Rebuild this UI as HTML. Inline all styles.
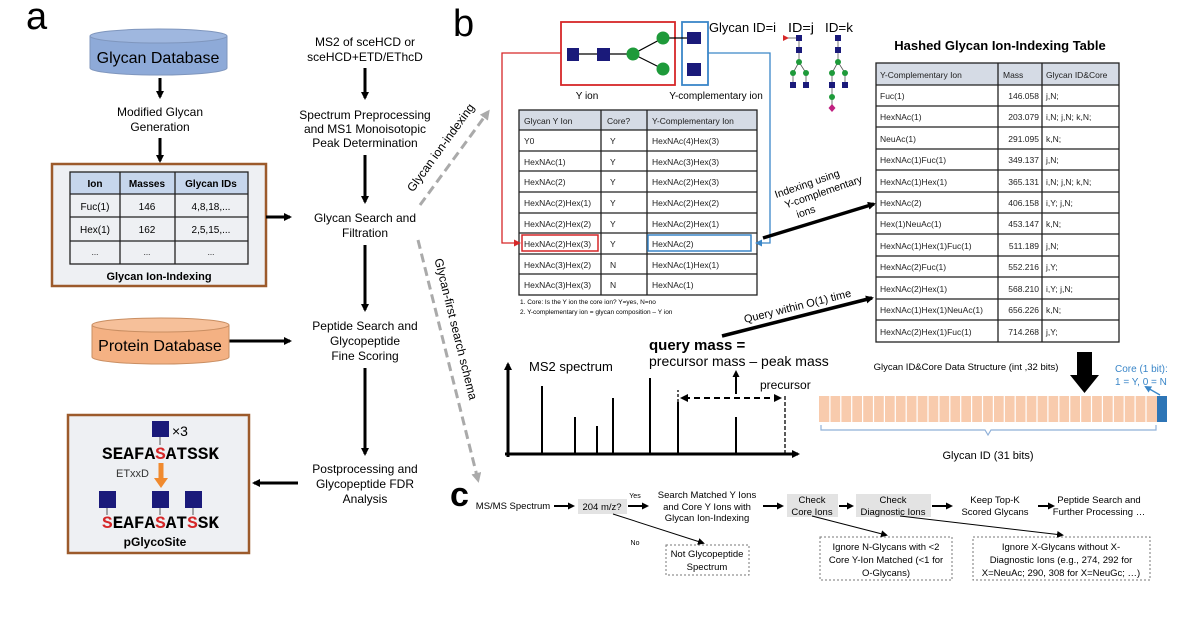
<!DOCTYPE html>
<html><head><meta charset="utf-8"><style>
html,body{margin:0;padding:0;background:#fff;}
svg{display:block;font-family:"Liberation Sans",sans-serif;}
.mono{font-family:"Liberation Mono","DejaVu Sans Mono",monospace;}
</style></head><body>
<svg width="1182" height="621" viewBox="0 0 1182 621" xmlns="http://www.w3.org/2000/svg">
<defs>
<marker id="ah" markerWidth="8" markerHeight="8" refX="6" refY="4" orient="auto" markerUnits="userSpaceOnUse"><path d="M0,0 L8,4 L0,8 z" fill="#000"/></marker>
<marker id="ahs" markerWidth="7" markerHeight="7" refX="5" refY="3.5" orient="auto" markerUnits="userSpaceOnUse"><path d="M0,0 L7,3.5 L0,7 z" fill="#000"/></marker>
<marker id="ahr" markerWidth="7" markerHeight="7" refX="5" refY="3.5" orient="auto" markerUnits="userSpaceOnUse"><path d="M0,0 L7,3.5 L0,7 z" fill="#d62728"/></marker>
<marker id="ahb" markerWidth="7" markerHeight="7" refX="5" refY="3.5" orient="auto" markerUnits="userSpaceOnUse"><path d="M0,0 L7,3.5 L0,7 z" fill="#3a86c8"/></marker>
<marker id="ahg" markerWidth="10" markerHeight="10" refX="7" refY="5" orient="auto" markerUnits="userSpaceOnUse"><path d="M0,0 L10,5 L0,10 z" fill="#aaa"/></marker>
</defs>

<text x="26" y="29" font-size="38">a</text>
<text x="453" y="36" font-size="38">b</text>
<text x="450" y="506" font-size="34" font-weight="bold">c</text>

<path d="M90,36 L90,68 A68,7 0 0 0 227,68 L227,36" fill="#8eaad8" stroke="#7f96bd"/>
<ellipse cx="158.5" cy="36" rx="68.5" ry="7" fill="#9fb7df" stroke="#7f96bd"/>
<text x="158" y="63" font-size="16" text-anchor="middle">Glycan Database</text>
<line x1="160" y1="78" x2="160" y2="97" stroke="#000" stroke-width="3" marker-end="url(#ah)"/>
<text x="160" y="116" font-size="12" text-anchor="middle">Modified Glycan</text>
<text x="160" y="131" font-size="12" text-anchor="middle">Generation</text>
<line x1="160" y1="138" x2="160" y2="161" stroke="#000" stroke-width="3" marker-end="url(#ah)"/>

<rect x="52" y="164" width="214" height="122" fill="#eef0f3" stroke="#9c5a2b" stroke-width="2.5"/>
<rect x="70" y="172" width="178" height="22" fill="#c6d6ec"/>
<g stroke="#222" stroke-width="1.3" fill="none">
<rect x="70" y="172" width="178" height="92"/>
<line x1="120" y1="172" x2="120" y2="264"/><line x1="175" y1="172" x2="175" y2="264"/>
<line x1="70" y1="194" x2="248" y2="194"/><line x1="70" y1="217" x2="248" y2="217"/><line x1="70" y1="241" x2="248" y2="241"/>
</g>
<g font-size="10" text-anchor="middle">
<text x="95" y="187" font-weight="bold">Ion</text><text x="147" y="187" font-weight="bold">Masses</text><text x="211" y="187" font-weight="bold">Glycan IDs</text>
<text x="95" y="210">Fuc(1)</text><text x="147" y="210">146</text><text x="211" y="210">4,8,18,...</text>
<text x="95" y="233">Hex(1)</text><text x="147" y="233">162</text><text x="211" y="233">2,5,15,...</text>
<text x="95" y="255" font-size="8">...</text><text x="147" y="255" font-size="8">...</text><text x="211" y="255" font-size="8">...</text>
<text x="159" y="280" font-weight="bold" font-size="11">Glycan Ion-Indexing</text>
</g>
<line x1="266" y1="217" x2="290" y2="217" stroke="#000" stroke-width="3" marker-end="url(#ah)"/>

<g font-size="12" text-anchor="middle">
<text x="365" y="46">MS2 of sceHCD or</text>
<text x="365" y="61">sceHCD+ETD/EThcD</text>
<text x="365" y="119">Spectrum Preprocessing</text>
<text x="365" y="133">and MS1 Monoisotopic</text>
<text x="365" y="147">Peak Determination</text>
<text x="365" y="222">Glycan Search and</text>
<text x="365" y="237">Filtration</text>
<text x="365" y="330">Peptide Search and</text>
<text x="365" y="345">Glycopeptide</text>
<text x="365" y="360">Fine Scoring</text>
<text x="365" y="473">Postprocessing and</text>
<text x="365" y="488">Glycopeptide FDR</text>
<text x="365" y="503">Analysis</text>
</g>
<g stroke="#000" stroke-width="3">
<line x1="365" y1="68" x2="365" y2="98" marker-end="url(#ah)"/>
<line x1="365" y1="155" x2="365" y2="202" marker-end="url(#ah)"/>
<line x1="365" y1="245" x2="365" y2="310" marker-end="url(#ah)"/>
<line x1="365" y1="368" x2="365" y2="454" marker-end="url(#ah)"/>
<line x1="298" y1="483" x2="254" y2="483" marker-end="url(#ah)"/>
<line x1="229" y1="341" x2="290" y2="341" marker-end="url(#ah)"/>
</g>

<path d="M92,325 L92,357 A68,7 0 0 0 229,357 L229,325" fill="#f4b183" stroke="#c98e62"/>
<ellipse cx="160.5" cy="325" rx="68.5" ry="7" fill="#f6c09a" stroke="#c98e62"/>
<text x="160" y="351" font-size="16" text-anchor="middle">Protein Database</text>

<rect x="68" y="415" width="181" height="138" fill="#eef0f3" stroke="#9c5a2b" stroke-width="2.5"/>
<rect x="152" y="421" width="17" height="16" fill="#1a1a7a"/>
<line x1="160" y1="437" x2="160" y2="445" stroke="#555"/>
<text x="172" y="436" font-size="14">×3</text>
<text x="102" y="459" font-size="17.6" font-weight="bold" class="mono" style="font-family:'Liberation Mono','DejaVu Sans Mono',monospace" textLength="117" lengthAdjust="spacingAndGlyphs">SEAFA<tspan fill="#d62728">S</tspan>ATSSK</text>
<text x="116" y="477" font-size="11" fill="#333">ETxxD</text>
<line x1="161" y1="463" x2="161" y2="479" stroke="#f08a2e" stroke-width="5"/>
<path d="M154,478 L168,478 L161,488 z" fill="#f08a2e"/>
<rect x="99" y="491" width="17" height="17" fill="#1a1a7a"/>
<rect x="152" y="491" width="17" height="17" fill="#1a1a7a"/>
<rect x="185" y="491" width="17" height="17" fill="#1a1a7a"/>
<g stroke="#555"><line x1="107" y1="508" x2="107" y2="515"/><line x1="160" y1="508" x2="160" y2="515"/><line x1="193" y1="508" x2="193" y2="515"/></g>
<text x="102" y="528" font-size="17.6" font-weight="bold" class="mono" style="font-family:'Liberation Mono','DejaVu Sans Mono',monospace" textLength="117" lengthAdjust="spacingAndGlyphs"><tspan fill="#d62728">S</tspan>EAFA<tspan fill="#d62728">S</tspan>AT<tspan fill="#d62728">S</tspan>SK</text>
<text x="155" y="546" font-size="12" font-weight="bold" text-anchor="middle">pGlycoSite</text>

<line x1="420" y1="205" x2="488" y2="112" stroke="#aaa" stroke-width="3" stroke-dasharray="9,5" marker-end="url(#ahg)"/>
<text transform="translate(444,150) rotate(-54)" font-size="12" text-anchor="middle">Glycan ion-indexing</text>
<line x1="418" y1="240" x2="478" y2="480" stroke="#aaa" stroke-width="3" stroke-dasharray="9,5" marker-end="url(#ahg)"/>
<text transform="translate(452,330) rotate(76)" font-size="12" text-anchor="middle">Glycan-first search schema</text>

<rect x="561" y="22" width="114" height="63" fill="none" stroke="#d62728" stroke-width="1.8"/>
<rect x="682" y="22" width="26" height="63" fill="none" stroke="#3a86c8" stroke-width="1.8"/>
<g stroke="#000" stroke-width="1.2">
<line x1="573" y1="54" x2="633" y2="54"/><line x1="633" y1="54" x2="663" y2="38"/><line x1="633" y1="54" x2="663" y2="69"/><line x1="663" y1="38" x2="694" y2="38"/>
</g>
<rect x="567" y="48" width="12" height="13" fill="#1a1a7a"/>
<rect x="597" y="48" width="13" height="13" fill="#1a1a7a"/>
<circle cx="633" cy="54" r="6.5" fill="#1e9a3a"/>
<circle cx="663" cy="38" r="6.5" fill="#1e9a3a"/>
<circle cx="663" cy="69" r="6.5" fill="#1e9a3a"/>
<rect x="687" y="32" width="14" height="12" fill="#1a1a7a"/>
<rect x="687" y="63" width="14" height="13" fill="#1a1a7a"/>
<text x="709" y="32" font-size="13" textLength="67" lengthAdjust="spacingAndGlyphs">Glycan ID=i</text>
<text x="788" y="32" font-size="13" textLength="26" lengthAdjust="spacingAndGlyphs">ID=j</text>
<text x="825" y="32" font-size="13" textLength="28" lengthAdjust="spacingAndGlyphs">ID=k</text>
<g stroke="#555" stroke-width="0.8">
<line x1="786" y1="38" x2="799" y2="38"/><line x1="799" y1="38" x2="799" y2="62"/><line x1="799" y1="62" x2="793" y2="73"/><line x1="799" y1="62" x2="806" y2="73"/><line x1="793" y1="73" x2="793" y2="85"/><line x1="806" y1="73" x2="806" y2="85"/>
<line x1="838" y1="38" x2="838" y2="62"/><line x1="838" y1="62" x2="832" y2="73"/><line x1="838" y1="62" x2="845" y2="73"/><line x1="832" y1="73" x2="832" y2="108"/><line x1="845" y1="73" x2="845" y2="85"/>
</g>
<path d="M783,35 L789,38 L783,41 z" fill="#d62728"/>
<g fill="#1a1a7a">
<rect x="796" y="35" width="6" height="6"/><rect x="796" y="47" width="6" height="6"/><rect x="790" y="82" width="6" height="6"/><rect x="803" y="82" width="6" height="6"/>
<rect x="835" y="35" width="6" height="6"/><rect x="835" y="47" width="6" height="6"/><rect x="829" y="82" width="6" height="6"/><rect x="842" y="82" width="6" height="6"/>
</g>
<g fill="#1e9a3a">
<circle cx="799" cy="62" r="3"/><circle cx="793" cy="73" r="3"/><circle cx="806" cy="73" r="3"/>
<circle cx="838" cy="62" r="3"/><circle cx="832" cy="73" r="3"/><circle cx="845" cy="73" r="3"/><circle cx="832" cy="97" r="3"/>
</g>
<path d="M832,104 L835.5,108 L832,112 L828.5,108 z" fill="#c02080"/>
<text x="587" y="99" font-size="10" text-anchor="middle">Y ion</text>
<text x="716" y="99" font-size="10" text-anchor="middle">Y-complementary ion</text>

<rect x="519" y="110" width="238" height="20" fill="#d5dbe5"/>
<g stroke="#222" stroke-width="1.3" fill="none">
<rect x="519" y="110" width="238" height="185"/>
<line x1="601" y1="110" x2="601" y2="295"/><line x1="647" y1="110" x2="647" y2="295"/>
<line x1="519" y1="130" x2="757" y2="130"/><line x1="519" y1="151" x2="757" y2="151"/><line x1="519" y1="171" x2="757" y2="171"/><line x1="519" y1="192" x2="757" y2="192"/><line x1="519" y1="213" x2="757" y2="213"/><line x1="519" y1="233" x2="757" y2="233"/><line x1="519" y1="254" x2="757" y2="254"/><line x1="519" y1="274" x2="757" y2="274"/>
</g>
<rect x="522" y="235" width="76" height="16" fill="none" stroke="#d62728" stroke-width="1.5"/>
<rect x="648" y="235" width="103" height="16" fill="none" stroke="#3a86c8" stroke-width="1.5"/>
<g font-size="8.5" fill="#222">
<text x="524" y="124">Glycan Y Ion</text><text x="607" y="124">Core?</text><text x="652" y="124">Y-Complementary Ion</text>
<text x="524" y="144">Y0</text><text x="610" y="144">Y</text><text x="652" y="144">HexNAc(4)Hex(3)</text>
<text x="524" y="165">HexNAc(1)</text><text x="610" y="165">Y</text><text x="652" y="165">HexNAc(3)Hex(3)</text>
<text x="524" y="185">HexNAc(2)</text><text x="610" y="185">Y</text><text x="652" y="185">HexNAc(2)Hex(3)</text>
<text x="524" y="206">HexNAc(2)Hex(1)</text><text x="610" y="206">Y</text><text x="652" y="206">HexNAc(2)Hex(2)</text>
<text x="524" y="227">HexNAc(2)Hex(2)</text><text x="610" y="227">Y</text><text x="652" y="227">HexNAc(2)Hex(1)</text>
<text x="524" y="247">HexNAc(2)Hex(3)</text><text x="610" y="247">Y</text><text x="652" y="247">HexNAc(2)</text>
<text x="524" y="268">HexNAc(3)Hex(2)</text><text x="610" y="268">N</text><text x="652" y="268">HexNAc(1)Hex(1)</text>
<text x="524" y="288">HexNAc(3)Hex(3)</text><text x="610" y="288">N</text><text x="652" y="288">HexNAc(1)</text>
</g>
<text x="520" y="304" font-size="6.5">1. Core: Is the Y ion the core ion? Y=yes, N=no</text>
<text x="520" y="314" font-size="6.5">2. Y-complementary ion = glycan composition – Y ion</text>
<polyline points="561,53 502,53 502,243 519,243" fill="none" stroke="#d62728" stroke-width="1.3" marker-end="url(#ahr)"/>
<polyline points="708,53 770,53 770,243 757,243" fill="none" stroke="#3a86c8" stroke-width="1.3" marker-end="url(#ahb)"/>

<line x1="763" y1="238" x2="874" y2="204" stroke="#000" stroke-width="3.5" marker-end="url(#ah)"/>
<g font-size="10.5" transform="rotate(-19 780 200)">
<text x="777" y="197">Indexing using</text>
<text x="783" y="210">Y-complementary</text>
<text x="791" y="223">ions</text>
</g>
<line x1="722" y1="336" x2="872" y2="298" stroke="#000" stroke-width="3.5" marker-end="url(#ah)"/>
<text transform="translate(745,323) rotate(-14)" font-size="11">Query within O(1) time</text>

<text x="649" y="350" font-size="15" font-weight="bold">query mass =</text>
<text x="649" y="366" font-size="14">precursor mass – peak mass</text>
<text x="529" y="371" font-size="13">MS2 spectrum</text>
<text x="760" y="389" font-size="12">precursor</text>
<g stroke="#000">
<line x1="508" y1="457" x2="508" y2="364" stroke-width="3" marker-end="url(#ah)"/>
<line x1="505" y1="454" x2="798" y2="454" stroke-width="3" marker-end="url(#ah)"/>
<line x1="542" y1="454" x2="542" y2="386" stroke-width="2"/>
<line x1="575" y1="454" x2="575" y2="417" stroke-width="2"/>
<line x1="597" y1="454" x2="597" y2="426" stroke-width="2"/>
<line x1="613" y1="454" x2="613" y2="398" stroke-width="2"/>
<line x1="650" y1="454" x2="650" y2="378" stroke-width="2"/>
<line x1="678" y1="454" x2="678" y2="402" stroke-width="2"/>
<line x1="678" y1="402" x2="678" y2="390" stroke-width="1.3" stroke-dasharray="3,2"/>
<line x1="736" y1="454" x2="736" y2="417" stroke-width="2"/>
<line x1="785" y1="454" x2="785" y2="396" stroke-width="1.3" stroke-dasharray="4,2"/>
<line x1="736" y1="394" x2="736" y2="372" stroke-width="2" marker-end="url(#ahs)"/>
<line x1="684" y1="398" x2="777" y2="398" stroke-width="2" stroke-dasharray="6,4"/>
</g>
<path d="M680,398 L688,394 L688,402 z"/><path d="M782,398 L774,394 L774,402 z"/>

<text x="1000" y="50" font-size="13" font-weight="bold" text-anchor="middle">Hashed Glycan Ion-Indexing Table</text>
<rect x="876" y="63" width="243" height="22" fill="#d5dbe5"/>
<g stroke="#222" stroke-width="1.3" fill="none">
<rect x="876" y="63" width="243" height="279"/>
<line x1="998" y1="63" x2="998" y2="342"/><line x1="1042" y1="63" x2="1042" y2="342"/>
<line x1="876" y1="85" x2="1119" y2="85"/><line x1="876" y1="106" x2="1119" y2="106"/><line x1="876" y1="127" x2="1119" y2="127"/><line x1="876" y1="149" x2="1119" y2="149"/><line x1="876" y1="170" x2="1119" y2="170"/><line x1="876" y1="192" x2="1119" y2="192"/><line x1="876" y1="213" x2="1119" y2="213"/><line x1="876" y1="234" x2="1119" y2="234"/><line x1="876" y1="256" x2="1119" y2="256"/><line x1="876" y1="277" x2="1119" y2="277"/><line x1="876" y1="299" x2="1119" y2="299"/><line x1="876" y1="320" x2="1119" y2="320"/>
</g>
<g font-size="8.5" fill="#222">
<text x="880" y="78">Y-Complementary Ion</text><text x="1003" y="78">Mass</text><text x="1046" y="78">Glycan ID&amp;Core</text>
<text x="880" y="99">Fuc(1)</text><text x="1039" y="99" text-anchor="end">146.058</text><text x="1046" y="99">j,N;</text>
<text x="880" y="120">HexNAc(1)</text><text x="1039" y="120" text-anchor="end">203.079</text><text x="1046" y="120">i,N;  j,N;  k,N;</text>
<text x="880" y="142">NeuAc(1)</text><text x="1039" y="142" text-anchor="end">291.095</text><text x="1046" y="142">k,N;</text>
<text x="880" y="163">HexNAc(1)Fuc(1)</text><text x="1039" y="163" text-anchor="end">349.137</text><text x="1046" y="163">j,N;</text>
<text x="880" y="185">HexNAc(1)Hex(1)</text><text x="1039" y="185" text-anchor="end">365.131</text><text x="1046" y="185">i,N;  j,N;  k,N;</text>
<text x="880" y="206">HexNAc(2)</text><text x="1039" y="206" text-anchor="end">406.158</text><text x="1046" y="206">i,Y;  j,N;</text>
<text x="880" y="227">Hex(1)NeuAc(1)</text><text x="1039" y="227" text-anchor="end">453.147</text><text x="1046" y="227">k,N;</text>
<text x="880" y="249">HexNAc(1)Hex(1)Fuc(1)</text><text x="1039" y="249" text-anchor="end">511.189</text><text x="1046" y="249">j,N;</text>
<text x="880" y="270">HexNAc(2)Fuc(1)</text><text x="1039" y="270" text-anchor="end">552.216</text><text x="1046" y="270">j,Y;</text>
<text x="880" y="292">HexNAc(2)Hex(1)</text><text x="1039" y="292" text-anchor="end">568.210</text><text x="1046" y="292">i,Y;  j,N;</text>
<text x="880" y="313">HexNAc(1)Hex(1)NeuAc(1)</text><text x="1039" y="313" text-anchor="end">656.226</text><text x="1046" y="313">k,N;</text>
<text x="880" y="335">HexNAc(2)Hex(1)Fuc(1)</text><text x="1039" y="335" text-anchor="end">714.268</text><text x="1046" y="335">j,Y;</text>
</g>

<path d="M1077,352 L1092,352 L1092,375 L1099,375 L1084.5,393 L1070,375 L1077,375 z" fill="#000"/>
<text x="966" y="370" font-size="9.5" text-anchor="middle">Glycan ID&amp;Core Data Structure (int ,32 bits)</text>
<text x="1115" y="372" font-size="10" fill="#3a86c8">Core (1 bit):</text>
<text x="1115" y="385" font-size="10" fill="#3a86c8">1 = Y, 0 = N</text>
<rect x="819" y="396" width="338" height="26" fill="#f8cbad"/>
<g stroke="#fff" stroke-width="1.2">
<line x1="829.9" y1="396" x2="829.9" y2="422"/><line x1="840.8" y1="396" x2="840.8" y2="422"/><line x1="851.7" y1="396" x2="851.7" y2="422"/><line x1="862.6" y1="396" x2="862.6" y2="422"/><line x1="873.5" y1="396" x2="873.5" y2="422"/><line x1="884.4" y1="396" x2="884.4" y2="422"/><line x1="895.3" y1="396" x2="895.3" y2="422"/><line x1="906.2" y1="396" x2="906.2" y2="422"/><line x1="917.1" y1="396" x2="917.1" y2="422"/><line x1="928" y1="396" x2="928" y2="422"/><line x1="938.9" y1="396" x2="938.9" y2="422"/><line x1="949.8" y1="396" x2="949.8" y2="422"/><line x1="960.7" y1="396" x2="960.7" y2="422"/><line x1="971.6" y1="396" x2="971.6" y2="422"/><line x1="982.5" y1="396" x2="982.5" y2="422"/><line x1="993.4" y1="396" x2="993.4" y2="422"/><line x1="1004.3" y1="396" x2="1004.3" y2="422"/><line x1="1015.2" y1="396" x2="1015.2" y2="422"/><line x1="1026.1" y1="396" x2="1026.1" y2="422"/><line x1="1037" y1="396" x2="1037" y2="422"/><line x1="1047.9" y1="396" x2="1047.9" y2="422"/><line x1="1058.8" y1="396" x2="1058.8" y2="422"/><line x1="1069.7" y1="396" x2="1069.7" y2="422"/><line x1="1080.6" y1="396" x2="1080.6" y2="422"/><line x1="1091.5" y1="396" x2="1091.5" y2="422"/><line x1="1102.4" y1="396" x2="1102.4" y2="422"/><line x1="1113.3" y1="396" x2="1113.3" y2="422"/><line x1="1124.2" y1="396" x2="1124.2" y2="422"/><line x1="1135.1" y1="396" x2="1135.1" y2="422"/><line x1="1146" y1="396" x2="1146" y2="422"/>
</g>
<rect x="1157" y="396" width="10" height="26" fill="#2e75b6"/>
<line x1="1160" y1="395" x2="1146" y2="387" stroke="#3a86c8" stroke-width="1.3" marker-end="url(#ahb)"/>
<path d="M821,425 L821,430 L985,430 L988,435 L991,430 L1156,430 L1156,425" fill="none" stroke="#8fb0d8" stroke-width="1.2"/>
<text x="988" y="459" font-size="11" text-anchor="middle">Glycan ID (31 bits)</text>

<g font-size="9.5" text-anchor="middle">
<text x="513" y="509">MS/MS Spectrum</text>
<rect x="578" y="499" width="49" height="15" fill="#e3e3e3"/>
<text x="602" y="510">204 m/z?</text>
<text x="635" y="498" font-size="7">Yes</text>
<text x="635" y="545" font-size="7">No</text>
<text x="707" y="498">Search Matched Y Ions</text>
<text x="707" y="510">and Core Y Ions with</text>
<text x="707" y="521">Glycan Ion-Indexing</text>
<rect x="787" y="494" width="51" height="23" fill="#e3e3e3"/>
<text x="812" y="503">Check</text><text x="812" y="515">Core Ions</text>
<rect x="856" y="494" width="75" height="23" fill="#e3e3e3"/>
<text x="893" y="503">Check</text><text x="893" y="515">Diagnostic Ions</text>
<text x="995" y="503">Keep Top-K</text><text x="995" y="515">Scored Glycans</text>
<text x="1099" y="503">Peptide Search and</text><text x="1099" y="515">Further Processing …</text>
<rect x="666" y="545" width="83" height="30" fill="none" stroke="#777" stroke-dasharray="2,2"/>
<text x="707" y="557">Not Glycopeptide</text><text x="707" y="570">Spectrum</text>
<rect x="820" y="537" width="132" height="43" fill="none" stroke="#777" stroke-dasharray="2,2"/>
<text x="886" y="550">Ignore N-Glycans with &lt;2</text><text x="886" y="563">Core Y-Ion Matched (&lt;1 for</text><text x="886" y="576">O-Glycans)</text>
<rect x="973" y="537" width="177" height="43" fill="none" stroke="#777" stroke-dasharray="2,2"/>
<text x="1061" y="550">Ignore X-Glycans without X-</text><text x="1061" y="563">Diagnostic Ions (e.g., 274, 292 for</text><text x="1061" y="576">X=NeuAc; 290, 308 for X=NeuGc; …)</text>
</g>
<g stroke="#000">
<line x1="554" y1="506" x2="573" y2="506" stroke-width="2" marker-end="url(#ahs)"/>
<line x1="628" y1="506" x2="647" y2="506" stroke-width="2" marker-end="url(#ahs)"/>
<line x1="763" y1="506" x2="782" y2="506" stroke-width="2" marker-end="url(#ahs)"/>
<line x1="839" y1="506" x2="852" y2="506" stroke-width="2" marker-end="url(#ahs)"/>
<line x1="932" y1="506" x2="951" y2="506" stroke-width="2" marker-end="url(#ahs)"/>
<line x1="1038" y1="506" x2="1053" y2="506" stroke-width="2" marker-end="url(#ahs)"/>
<line x1="613" y1="514" x2="703" y2="543" stroke-width="1" marker-end="url(#ahs)"/>
<line x1="812" y1="516" x2="886" y2="535" stroke-width="1" marker-end="url(#ahs)"/>
<line x1="900" y1="516" x2="1062" y2="535" stroke-width="1" marker-end="url(#ahs)"/>
</g>
</svg>
</body></html>
